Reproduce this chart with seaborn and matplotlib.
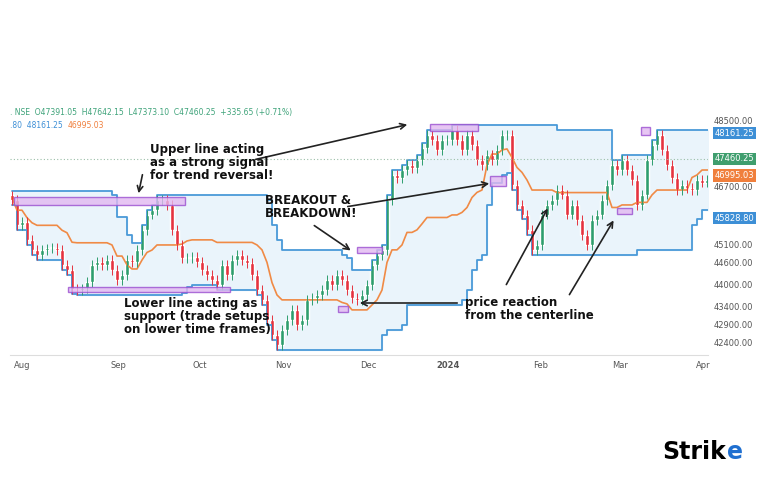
import matplotlib
matplotlib.use("Agg")
import matplotlib.pyplot as plt
import seaborn as sns
import pandas as pd
import numpy as np
from matplotlib.patches import Rectangle

# daily closes (Aug 2023 - Apr 2024)
closes = [46330, 45640, 45720, 45230, 44950, 44810, 44950, 45000, 45010, 44950,
          44540, 44400, 43880, 43850, 43900, 44070, 44540, 44620, 44540, 44680,
          44400, 44130, 44270, 44680, 44620, 44950, 45500, 45920, 46050, 46330,
          46330, 46190, 45500, 45090, 44730, 44730, 44760, 44620, 44400, 44270,
          44130, 43990, 44540, 44270, 44680, 44820, 44680, 44600, 44270, 43850,
          43580, 43030, 42610, 42340, 42750, 43030, 43300, 42890, 43030, 43580,
          43630, 43720, 43850, 44130, 43990, 44270, 44130, 43850, 43630, 43580,
          43720, 43990, 44540, 44820, 44950, 46330, 47020, 46930, 47150, 47290,
          47210, 47430, 47760, 48110, 47980, 47700, 47980, 47980, 48250, 47980,
          47700, 48110, 47840, 47430, 47290, 47560, 47430, 47700, 48110, 48110,
          46740, 46190, 45920, 45500, 44950, 45090, 45920, 46190, 46330, 46600,
          46470, 45920, 46190, 45780, 45360, 45090, 45780, 45920, 46330, 46740,
          47290, 47150, 47430, 47150, 46880, 46190, 46470, 47430, 47840, 48110,
          47700, 47290, 46930, 46600, 46740, 46660, 46600, 46880, 46800, 46880,
          47020, 47430]
first_open = 46450
wick = 130
period = 20

month_labels = ["Aug", "Sep", "Oct", "Nov", "Dec", "2024", "Feb", "Mar", "Apr"]
month_pos = [2, 21.2, 37.6, 54.2, 71.2, 87.2, 105.8, 121.6, 138.2]
price_ticks = [42400, 42900, 43400, 44000, 44600, 45100, 46700, 48500]
badges = [(48161.25, "#3d8fd6"), (47460.25, "#3f9e6e"), (46995.03, "#f07f3c"), (45828.80, "#3d8fd6")]

df = pd.DataFrame({"close": closes})
df["open"] = df["close"].shift(1).fillna(first_open)
df["high"] = df[["open", "close"]].max(axis=1) + wick
df["low"] = df[["open", "close"]].min(axis=1) - wick
df["upper"] = df["high"].rolling(period, min_periods=1).max()
df["lower"] = df["low"].rolling(period, min_periods=1).min()
df["mid"] = (df["upper"] + df["lower"]) / 2
df["i"] = np.arange(len(df))

sns.set_style("white")
plt.rcParams['font.family'] = ['DejaVu Sans']
fig = plt.figure(figsize=(7.68, 4.8), dpi=100)
ax = fig.add_axes([10 / 768, 125 / 480, 698 / 768, 245 / 480])

blue = "#4a9ad8"
ax.fill_between(df["i"], df["lower"], df["upper"], color="#eaf4fb", step="post", zorder=0)
sns.lineplot(data=df, x="i", y="upper", ax=ax, color=blue, lw=1.3, drawstyle="steps-post")
sns.lineplot(data=df, x="i", y="lower", ax=ax, color=blue, lw=1.3, drawstyle="steps-post")
sns.lineplot(data=df, x="i", y="mid", ax=ax, color="#f08a45", lw=1.2)

up = df["close"] >= df["open"]
colors = np.where(up, "#2f9e6e", "#e5333f")
ax.vlines(df["i"], df["low"], df["high"], colors=colors, lw=0.7)
ax.bar(df["i"], (df["close"] - df["open"]).abs().clip(lower=30),
       bottom=df[["open", "close"]].min(axis=1), width=0.8, color=colors)

ax.axhline(47460.25, color="#9bbfa8", ls=(0, (1, 2)), lw=0.8)

boxes = [(0.4, 46190, 34.2, 220), (11.2, 43800, 32.4, 135), (65.2, 43250, 2, 160),
         (69, 44870, 5, 165), (83.6, 48225, 9.6, 195), (95.6, 46715, 3.2, 275),
         (121, 45940, 3, 170), (125.8, 48115, 1.8, 220)]
for x0, y0, w, h in boxes:
    ax.add_patch(Rectangle((x0, y0), w, h, fc="#e2b8f0", ec="#9a4fd0", lw=1, alpha=0.8, zorder=5))

ax.set_xlim(-0.4, 139.2)
ax.set_ylim(42065, 48800)
ax.set_xticks(month_pos)
ax.set_xticklabels(month_labels, fontsize=6, color="#555555")
for t in ax.get_xticklabels():
    if t.get_text() == "2024":
        t.set_fontweight("bold")
ax.yaxis.tick_right()
ax.set_yticks(price_ticks)
ax.set_yticklabels([f"{p:.2f}" for p in price_ticks], fontsize=6, color="#555555")
ax.tick_params(length=0, pad=4)
ax.set_xlabel("")
ax.set_ylabel("")
for s in ["top", "left", "right"]:
    ax.spines[s].set_visible(False)
ax.spines["bottom"].set_color("#dddddd")
for val, col in badges:
    ax.text(1.01, val, f"{val:.2f}", transform=ax.get_yaxis_transform(), fontsize=6,
            color="white", va="center", bbox=dict(fc=col, ec="none", pad=1.2))

fig.text(10 / 768, 1 - 113 / 480, ". NSE  O47391.05  H47642.15  L47373.10  C47460.25  +335.65 (+0.71%)",
         fontsize=5.5, color="#3fa37a", va="center")
fig.text(10 / 768, 1 - 125 / 480, ".80  48161.25", fontsize=5.5, color="#3d8fd6", va="center")
fig.text(68 / 768, 1 - 125 / 480, "46995.03", fontsize=5.5, color="#f07f3c", va="center")

txt = dict(fontsize=8.5, fontweight="bold", color="#111111", va="top")
fig.text(150 / 768, 1 - 143 / 480, "Upper line acting\nas a strong signal\nfor trend reversal!", linespacing=1.0, **txt)
fig.text(265 / 768, 1 - 194 / 480, "BREAKOUT &\nBREAKDOWN!", linespacing=1.0, **txt)
fig.text(124 / 768, 1 - 297 / 480, "Lower line acting as\nsupport (trade setups\non lower time frames)", linespacing=1.0, **txt)
fig.text(465 / 768, 1 - 296 / 480, "price reaction\nfrom the centerline", linespacing=1.0, **txt)

arrows = [((253, 160), (410, 124)), ((143, 172), (138, 196)), ((345, 207), (492, 183)),
          ((312, 224), (353, 252)), ((460, 303), (357, 303)), ((505, 287), (549, 206)),
          ((568, 297), (615, 218))]
for (x0, y0), (x1, y1) in arrows:
    ax.annotate("", xy=(x1, 480 - y1), xytext=(x0, 480 - y0), xycoords="figure pixels",
                textcoords="figure pixels",
                arrowprops=dict(arrowstyle="->", color="#222222", lw=1.2))

logo = fig.text(662 / 768, 1 - 452 / 480, "Strik", fontsize=17, fontweight="bold", color="black", va="center")
fig.canvas.draw()
ax.annotate("e", xy=(1, 0.5), xycoords=logo, xytext=(1, 0), textcoords="offset points",
            fontsize=17, fontweight="bold", color="#1f6fd0", va="center", ha="left")

fig.savefig("out.png", dpi=100)
